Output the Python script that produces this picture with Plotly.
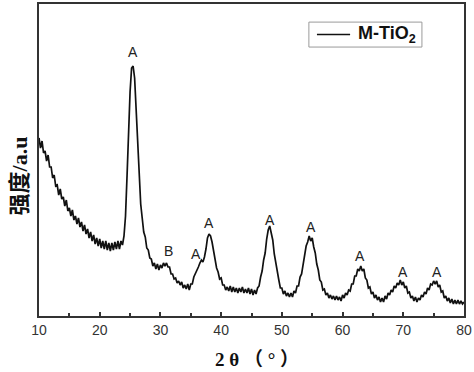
import numpy as np
import plotly.graph_objects as go

# 2-theta sampling grid (degrees), 0.25 step
two_theta = np.round(np.arange(10, 80.001, 0.25), 2)

# intensity (a.u.), 4 values per degree
intensity = [
    178, 168, 175, 163,   # 10
    165, 155, 161, 149,   # 11
    149, 138, 141, 130,   # 12
    131, 121, 127, 117,   # 13
    119, 110, 116, 105,   # 14
    108, 100, 106, 96,    # 15
    100, 92, 98, 89,      # 16
    94, 85, 91, 82,       # 17
    87, 78, 84, 75,       # 18
    81, 72, 78, 70,       # 19
    77, 68, 75, 67,       # 20
    75, 66, 73, 65,       # 21
    73, 66, 74, 67,       # 22
    75, 67, 75, 71,       # 23
    80, 100, 140, 192,    # 24
    224, 248, 250, 238,   # 25
    208, 176, 138, 112,   # 26
    98, 84, 79, 68,       # 27
    66, 58, 57, 50,       # 28
    53, 47, 52, 46,       # 29
    51, 48, 53, 50,       # 30
    53, 49, 49, 42,       # 31
    42, 37, 38, 33,       # 32
    35, 31, 34, 28,       # 33
    31, 27, 32, 26,       # 34
    32, 32, 39, 42,       # 35
    46, 49, 53, 56,       # 36
    54, 59, 67, 78,       # 37
    82, 80, 74, 66,       # 38
    59, 48, 44, 37,       # 39
    38, 31, 31, 26,       # 40
    29, 25, 30, 24,       # 41
    29, 24, 28, 23,       # 42
    28, 24, 29, 23,       # 43
    27, 23, 28, 22,       # 44
    27, 21, 26, 22,       # 45
    28, 30, 39, 45,       # 46
    56, 63, 77, 86,       # 47
    90, 84, 76, 62,       # 48
    53, 41, 36, 28,       # 49
    28, 22, 25, 20,       # 50
    23, 19, 23, 19,       # 51
    25, 23, 30, 30,       # 52
    39, 42, 53, 59,       # 53
    70, 74, 80, 75,       # 54
    78, 69, 63, 52,       # 55
    46, 36, 34, 26,       # 56
    27, 21, 23, 18,       # 57
    21, 17, 20, 16,       # 58
    20, 16, 19, 15,       # 59
    21, 18, 23, 21,       # 60
    26, 25, 32, 32,       # 61
    40, 40, 47, 45,       # 62
    50, 45, 47, 38,       # 63
    36, 28, 29, 22,       # 64
    24, 18, 21, 16,       # 65
    19, 14, 18, 14,       # 66
    20, 17, 23, 21,       # 67
    26, 24, 30, 28,       # 68
    33, 31, 36, 31,       # 69
    34, 28, 30, 23,       # 70
    24, 18, 20, 15,       # 71
    19, 14, 18, 16,       # 72
    21, 19, 24, 22,       # 73
    28, 26, 32, 31,       # 74
    35, 32, 35, 29,       # 75
    31, 24, 25, 18,       # 76
    20, 15, 18, 13,       # 77
    17, 12, 16, 12,       # 78
    16, 12, 15, 12,       # 79
    14,                   # 80
]

# peak labels
label_text = ["A", "B", "A", "A", "A", "A", "A", "A", "A"]
label_x = [25.5, 31.3, 35.9, 38.0, 48.0, 54.8, 62.9, 69.9, 75.5]
label_y = [264, 65, 62, 93, 96, 89, 60, 44, 44]

x_ticks = [10, 20, 30, 40, 50, 60, 70, 80]
series_name = "M-TiO<sub>2</sub>"

fig = go.Figure()
fig.add_trace(go.Scatter(
    x=two_theta, y=intensity, mode="lines",
    line=dict(color="#111111", width=1.7),
    name=series_name, showlegend=False,
))

for t, xx, yy in zip(label_text, label_x, label_y):
    fig.add_annotation(x=xx, y=yy, text=t, showarrow=False,
                       font=dict(family="Liberation Sans", size=14, color="#222"))

# legend box (drawn by hand to match the compact box of the original)
fig.add_shape(type="rect", xref="paper", yref="paper",
              x0=0.635, x1=0.901, y0=0.862, y1=0.942,
              line=dict(color="#9a9a9a", width=1), fillcolor="white")
fig.add_shape(type="line", xref="paper", yref="paper",
              x0=0.654, x1=0.732, y0=0.902, y1=0.902,
              line=dict(color="#111111", width=1.5))
fig.add_annotation(xref="paper", yref="paper", x=0.745, y=0.902,
                   xanchor="left", yanchor="middle", showarrow=False,
                   text="<b>" + series_name + "</b>",
                   font=dict(family="Liberation Sans", size=18, color="#111"))

# axis titles
fig.add_annotation(xref="paper", yref="paper", x=0.513, y=-0.141,
                   xanchor="center", yanchor="middle", showarrow=False,
                   text="<b>2 θ （ ° ）</b>",
                   font=dict(family="Liberation Serif, Noto Sans CJK SC", size=19, color="#111"))
fig.add_annotation(xref="paper", yref="paper", x=-0.045, y=0.45,
                   xanchor="center", yanchor="middle", showarrow=False,
                   textangle=-90, text="<b>强度/a.u</b>",
                   font=dict(family="Liberation Serif, Noto Sans CJK SC", size=22, color="#111"))

fig.update_layout(
    width=474, height=372,
    margin=dict(l=39, r=10, t=4, b=56, autoexpand=False),
    paper_bgcolor="white", plot_bgcolor="white",
    showlegend=False,
    xaxis=dict(
        range=[10, 80], tickvals=x_ticks, automargin=False,
        ticks="inside", ticklen=4, tickwidth=1.5, tickcolor="#333",
        minor=dict(ticks="inside", dtick=5, ticklen=3, tickwidth=1.5, tickcolor="#333"),
        showline=True, linecolor="#333", linewidth=2, mirror=True,
        showgrid=False, zeroline=False,
        tickfont=dict(family="Liberation Sans", size=14, color="#333"),
    ),
    yaxis=dict(
        range=[0, 312], showticklabels=False, ticks="", automargin=False,
        showline=True, linecolor="#333", linewidth=2, mirror=True,
        showgrid=False, zeroline=False,
    ),
)

fig.write_html("out.html", config={"displayModeBar": False},
               post_script="document.body.style.margin='0';")
